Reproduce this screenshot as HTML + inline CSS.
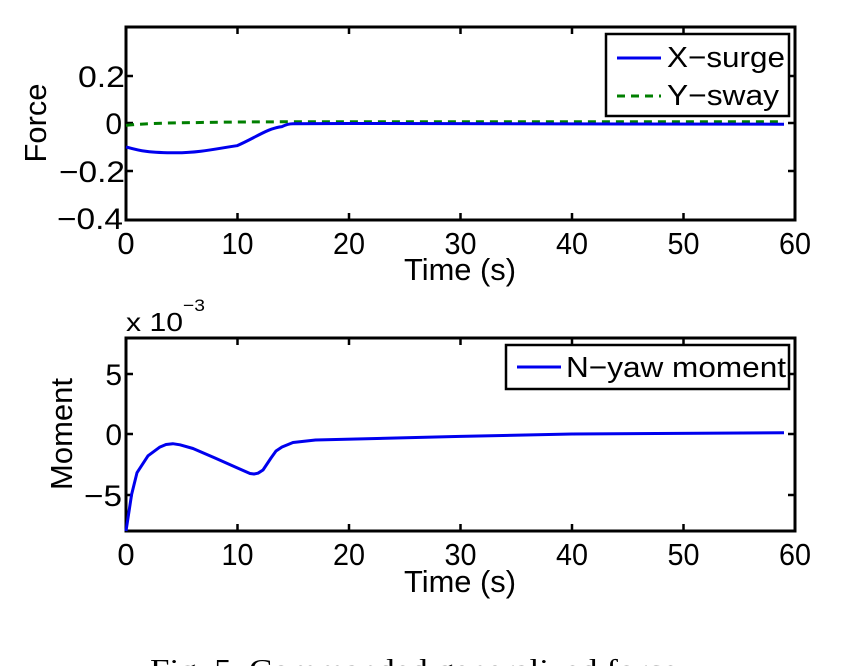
<!DOCTYPE html>
<html><head><style>
body{margin:0;background:#fff;}
svg text{font-family:"Liberation Sans",Arial,sans-serif;}
</style></head><body>
<svg width="843" height="666" viewBox="0 0 843 666" xmlns="http://www.w3.org/2000/svg">
<g stroke="#000" stroke-width="3" fill="none">
<rect x="126" y="27" width="669" height="193"/>
<rect x="126" y="338" width="669" height="193"/>
</g>
<g stroke="#000" stroke-width="2.5">
<path d="M237.5,27v7M349,27v7M460.5,27v7M572,27v7M683.5,27v7M237.5,220v-7M349,220v-7M460.5,220v-7M572,220v-7M683.5,220v-7"/>
<path d="M126,76h7M126,123h7M126,171h7M795,76h-7M795,123h-7M795,171h-7"/>
<path d="M237.5,338v7M349,338v7M460.5,338v7M572,338v7M683.5,338v7M237.5,531v-7M349,531v-7M460.5,531v-7M572,531v-7M683.5,531v-7"/>
<path d="M126,374h7M126,434h7M126,495h7M795,374h-7M795,434h-7M795,495h-7"/>
</g>
<path d="M126,125.4 C150,123 170,123 200,122.5 S260,121.8 293,121.8 L784,121.8" stroke="#007f00" stroke-width="3" fill="none" stroke-dasharray="8,6"/>
<path d="M126,146.9 C140,151 150,152.8 176,152.8 C200,152.8 220,148 237,145.7 C255,138 268,128 282,126.6 C287,124 290,123.7 293,123.7 L349,123.5 L784,124.2" stroke="#0000ee" stroke-width="3" fill="none"/>
<path d="M126,531 L131.6,494.5 L137,472.7 L148,455.8 L159.5,447.3 L166,444.5 L172.8,443.7 L180,444.8 L193,448.5 L215,458 L237.5,468 L250,473.5 L254,474 L258,473.2 L263,470 L271,458 L276,451 L282,447 L293,442.5 L315.5,440 L460.5,436.4 L572,434 L784,432.8" stroke="#0000ee" stroke-width="3" fill="none" stroke-linejoin="round"/>
<rect x="606" y="34" width="183" height="82" fill="#fff" stroke="#000" stroke-width="2.5"/>
<path d="M617,58h44" stroke="#0000ee" stroke-width="3"/>
<path d="M617,96h44" stroke="#007f00" stroke-width="3" stroke-dasharray="8,6"/>
<text x="667" y="67" font-size="29" textLength="118" lengthAdjust="spacingAndGlyphs">X−surge</text>
<text x="667" y="105" font-size="29" textLength="112" lengthAdjust="spacingAndGlyphs">Y−sway</text>
<rect x="506" y="345" width="283" height="44" fill="#fff" stroke="#000" stroke-width="2.5"/>
<path d="M517,367h44" stroke="#0000ee" stroke-width="3"/>
<text x="566" y="377" font-size="29" textLength="220" lengthAdjust="spacingAndGlyphs">N−yaw moment</text>
<g font-size="30" text-anchor="end">
<text x="125" y="87" textLength="47" lengthAdjust="spacingAndGlyphs">0.2</text>
<text x="122" y="134">0</text>
<text x="125" y="182" textLength="66" lengthAdjust="spacingAndGlyphs">−0.2</text>
<text x="123" y="229" textLength="66" lengthAdjust="spacingAndGlyphs">−0.4</text>
<text x="122" y="385">5</text>
<text x="122" y="445">0</text>
<text x="122" y="506" textLength="38" lengthAdjust="spacingAndGlyphs">−5</text>
</g>
<g font-size="31" text-anchor="middle">
<text x="126" y="254">0</text><text x="237.5" y="254" textLength="32" lengthAdjust="spacingAndGlyphs">10</text><text x="349" y="254" textLength="32" lengthAdjust="spacingAndGlyphs">20</text><text x="460.5" y="254" textLength="32" lengthAdjust="spacingAndGlyphs">30</text><text x="572" y="254" textLength="32" lengthAdjust="spacingAndGlyphs">40</text><text x="683.5" y="254" textLength="32" lengthAdjust="spacingAndGlyphs">50</text><text x="795" y="254" textLength="32" lengthAdjust="spacingAndGlyphs">60</text>
<text x="460" y="280" textLength="112" lengthAdjust="spacingAndGlyphs">Time (s)</text>
<text x="126" y="565">0</text><text x="237.5" y="565" textLength="32" lengthAdjust="spacingAndGlyphs">10</text><text x="349" y="565" textLength="32" lengthAdjust="spacingAndGlyphs">20</text><text x="460.5" y="565" textLength="32" lengthAdjust="spacingAndGlyphs">30</text><text x="572" y="565" textLength="32" lengthAdjust="spacingAndGlyphs">40</text><text x="683.5" y="565" textLength="32" lengthAdjust="spacingAndGlyphs">50</text><text x="795" y="565" textLength="32" lengthAdjust="spacingAndGlyphs">60</text>
<text x="460" y="592" textLength="112" lengthAdjust="spacingAndGlyphs">Time (s)</text>
<text transform="translate(46,123) rotate(-90)" textLength="79" lengthAdjust="spacingAndGlyphs">Force</text>
<text transform="translate(72,434) rotate(-90)" textLength="112" lengthAdjust="spacingAndGlyphs">Moment</text>
</g>
<text x="126" y="331" font-size="26" textLength="57" lengthAdjust="spacingAndGlyphs">x 10</text>
<text x="183" y="311" font-size="17" textLength="22" lengthAdjust="spacingAndGlyphs">−3</text>
<text x="150" y="679" font-size="29" textLength="528" lengthAdjust="spacingAndGlyphs" style="font-family:'Liberation Serif',serif">Fig. 5.   Commanded generalized force</text>
</svg>
</body></html>
